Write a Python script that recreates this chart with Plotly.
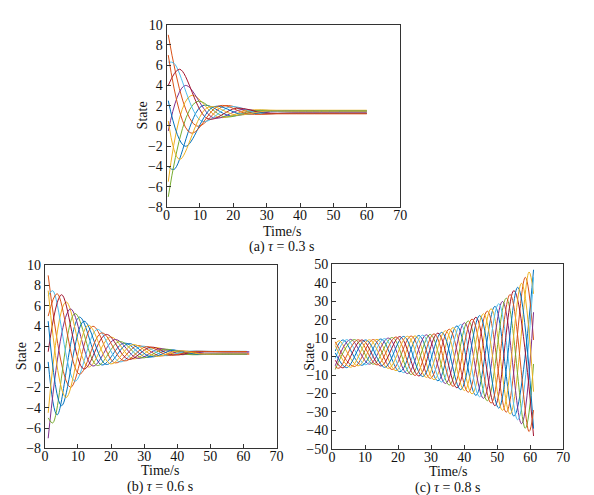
import plotly.graph_objects as go

# MATLAB default line colours, one per agent (cycled)
colors = ['#0072BD', '#D95319', '#EDB120', '#7E2F8E', '#77AC30', '#4DBEEE', '#A2142F']

# ---- (a) tau = 0.3 s : envelope peaks / troughs read every step_a seconds from t_a0
t_a0, step_a, tend_a = 0.5, 1.7, 60
upper_a = [9.0, 6.2, 5.6, 4.0, 3.0, 2.4, 2.0, 1.85, 1.9, 2.0, 2.0, 1.9, 1.75, 1.62, 1.55, 1.5, 1.48, 1.46, 1.45]
lower_a = [-7.0, -4.3, -3.3, -2.0, -0.7, 0.0, 0.45, 0.7, 0.8, 0.85, 0.9, 1.0, 1.08, 1.15, 1.2, 1.24, 1.26, 1.27, 1.28]
phase_a = [6, 0, 4, 3, 5, 1, 2, 8, 9, 7]
start_a = [-4.0, 9.0, -5.5, -0.5, -7.0, 6.3, 4.0, 2.5, 7.0, 0.5]

# ---- (b) tau = 0.6 s
t_b0, step_b, tend_b = 1.0, 1.35, 61
upper_b = [9.0, 7.5, 7.2, 7.1, 6.4, 5.7, 5.25, 4.9, 4.5, 4.1, 4.0, 3.7, 3.35, 3.2, 2.95, 2.7, 2.5, 2.35,
           2.3, 2.2, 2.1, 2.05, 2.0, 1.95, 1.9, 1.8, 1.75, 1.7, 1.65, 1.6, 1.57, 1.54, 1.52, 1.5, 1.49, 1.48]
lower_b = [-7.0, -5.5, -4.7, -3.8, -3.0, -2.0, -1.4, -0.7, -0.2, 0.0, 0.1, 0.15, 0.2, 0.25, 0.3, 0.4, 0.5, 0.6,
           0.75, 0.8, 0.85, 0.9, 0.95, 1.0, 1.05, 1.1, 1.12, 1.15, 1.18, 1.2, 1.22, 1.24, 1.26, 1.27, 1.28, 1.28]
phase_b = [7, 0, 4, 5, 6, 1, 3, 8, 2, 9]
start_b = [0.5, 9.0, -4.5, -7.0, -5.0, 7.0, 1.5, 4.5, 5.0, 7.5]

# ---- (c) tau = 0.8 s
t_c0, step_c, tend_c = 1.0, 1.15, 61
upper_c = [8.0, 8.6, 9.0, 9.2, 9.3, 9.2, 9.1, 9.0, 9.0, 9.1, 9.2, 9.3, 9.5, 9.7, 10.0, 10.3, 10.6, 10.8,
           10.9, 11.0, 11.1, 11.2, 11.4, 11.6, 11.8, 12.0, 12.3, 12.7, 13.1, 14.0, 14.8, 15.7, 16.6, 17.4,
           18.3, 19.3, 20.3, 21.3, 22.2, 23.2, 24.6, 25.9, 27.2, 28.6, 29.8, 31.6, 33.6, 35.7, 37.5, 39.7,
           42.9, 45.8]
lower_c = [-7.0, -6.3, -6.1, -6.0, -5.8, -5.4, -5.0, -4.7, -4.4, -4.1, -4.1, -4.5, -5.1, -5.8, -6.4, -7.0,
           -7.6, -8.2, -8.7, -9.2, -9.7, -10.2, -10.5, -10.8, -11.3, -11.8, -12.5, -13.1, -13.8, -14.6,
           -15.4, -16.1, -16.9, -17.9, -18.4, -19.3, -20.2, -21.0, -21.8, -22.6, -23.9, -25.2, -26.6,
           -27.9, -29.1, -30.1, -31.1, -32.2, -34.2, -36.4, -38.8, -40.6]
phase_c = [2, 0, 1, 4, 5, 3, 7, 8, 6, 9]
start_c = [3.0, 8.0, 6.5, -5.0, -7.0, -1.0, -2.0, 2.0, -5.5, 6.0]
end_c = [47, 9, 34, 24, -4, 43, -43, -39, -29, -19]


def agent_curve(t0, step, upper, lower, p, y0, t_end, y_end=None):
    # agent with phase p peaks on envelope column p, p+10, ... and dips on p+5, p+15, ...
    xs, ys = [t0], [y0]
    for j in range(1, len(upper)):
        d = j - p
        if d % 5:
            continue
        xs.append(t0 + j * step)
        ys.append(upper[j] if d % 10 == 0 else lower[j])
    if y_end is None:
        # settled: hold the last value flat to the end
        xs += [xs[-1] + 5 * step, xs[-1] + 10 * step, t_end]
        ys += [ys[-1]] * 3
    else:
        xs.append(t_end)
        ys.append(y_end)
    return xs, ys


fig = go.Figure()

panels = [
    ('x', 'y', t_a0, step_a, tend_a, upper_a, lower_a, phase_a, start_a, None),
    ('x2', 'y2', t_b0, step_b, tend_b, upper_b, lower_b, phase_b, start_b, None),
    ('x3', 'y3', t_c0, step_c, tend_c, upper_c, lower_c, phase_c, start_c, end_c),
]
for xa, ya, t0, step, t_end, up, lo, ph, st, en in panels:
    for i in range(len(ph)):
        x, y = agent_curve(t0, step, up, lo, ph[i], st[i], t_end, None if en is None else en[i])
        fig.add_trace(go.Scatter(x=x, y=y, mode='lines', xaxis=xa, yaxis=ya,
                                 line=dict(color=colors[i % 7], width=1, shape='spline'),
                                 showlegend=False, hoverinfo='skip'))

W, H = 594, 495
font = 'Liberation Serif'
ink = '#111111'


def px(x):
    return x / W


def py(y):
    return 1 - y / H


def ax(domain, rng, dtick, anchor, standoff):
    return dict(domain=domain, range=rng, dtick=dtick, anchor=anchor,
                showline=True, mirror=True, linecolor='#333', linewidth=1,
                ticks='inside', ticklen=4, tickcolor='#333', showgrid=False, zeroline=False,
                ticklabelstandoff=standoff,
                tickfont=dict(family=font, size=14, color=ink))


fig.update_layout(
    width=W, height=H, margin=dict(l=0, r=0, t=0, b=0),
    paper_bgcolor='white', plot_bgcolor='white',
    xaxis=ax([px(157.5), px(395.5)], [0, 70], 10, 'y', -5),
    yaxis=ax([py(198), py(10)], [-8, 10], 2, 'x', 0),
    xaxis2=ax([px(33.5), px(269.5)], [0, 70], 10, 'y2', -5),
    yaxis2=ax([py(447), py(258)], [-8, 10], 2, 'x2', 0),
    xaxis3=ax([px(326), px(561.7)], [0, 70], 10, 'y3', -5),
    yaxis3=ax([py(447.5), py(257)], [-50, 50], 10, 'x3', 0),
)

labels = [
    ('Time/s', 275, 223, 0), ('(a) <i>τ</i> = 0.3 s', 275, 239, 0), ('State', 133, 104, -90),
    ('Time/s', 151, 470, 0), ('(b) <i>τ</i> = 0.6 s', 151, 487, 0), ('State', 10, 352, -90),
    ('Time/s', 444, 470.5, 0), ('(c) <i>τ</i> = 0.8 s', 444, 487.5, 0), ('State', 303, 352, -90),
]
for text, lx, ly, ang in labels:
    fig.add_annotation(text=text, x=px(lx), y=py(ly), xref='paper', yref='paper',
                       showarrow=False, textangle=ang, xanchor='center', yanchor='middle',
                       font=dict(family=font, size=14, color=ink))

fig.write_html("out.html")
